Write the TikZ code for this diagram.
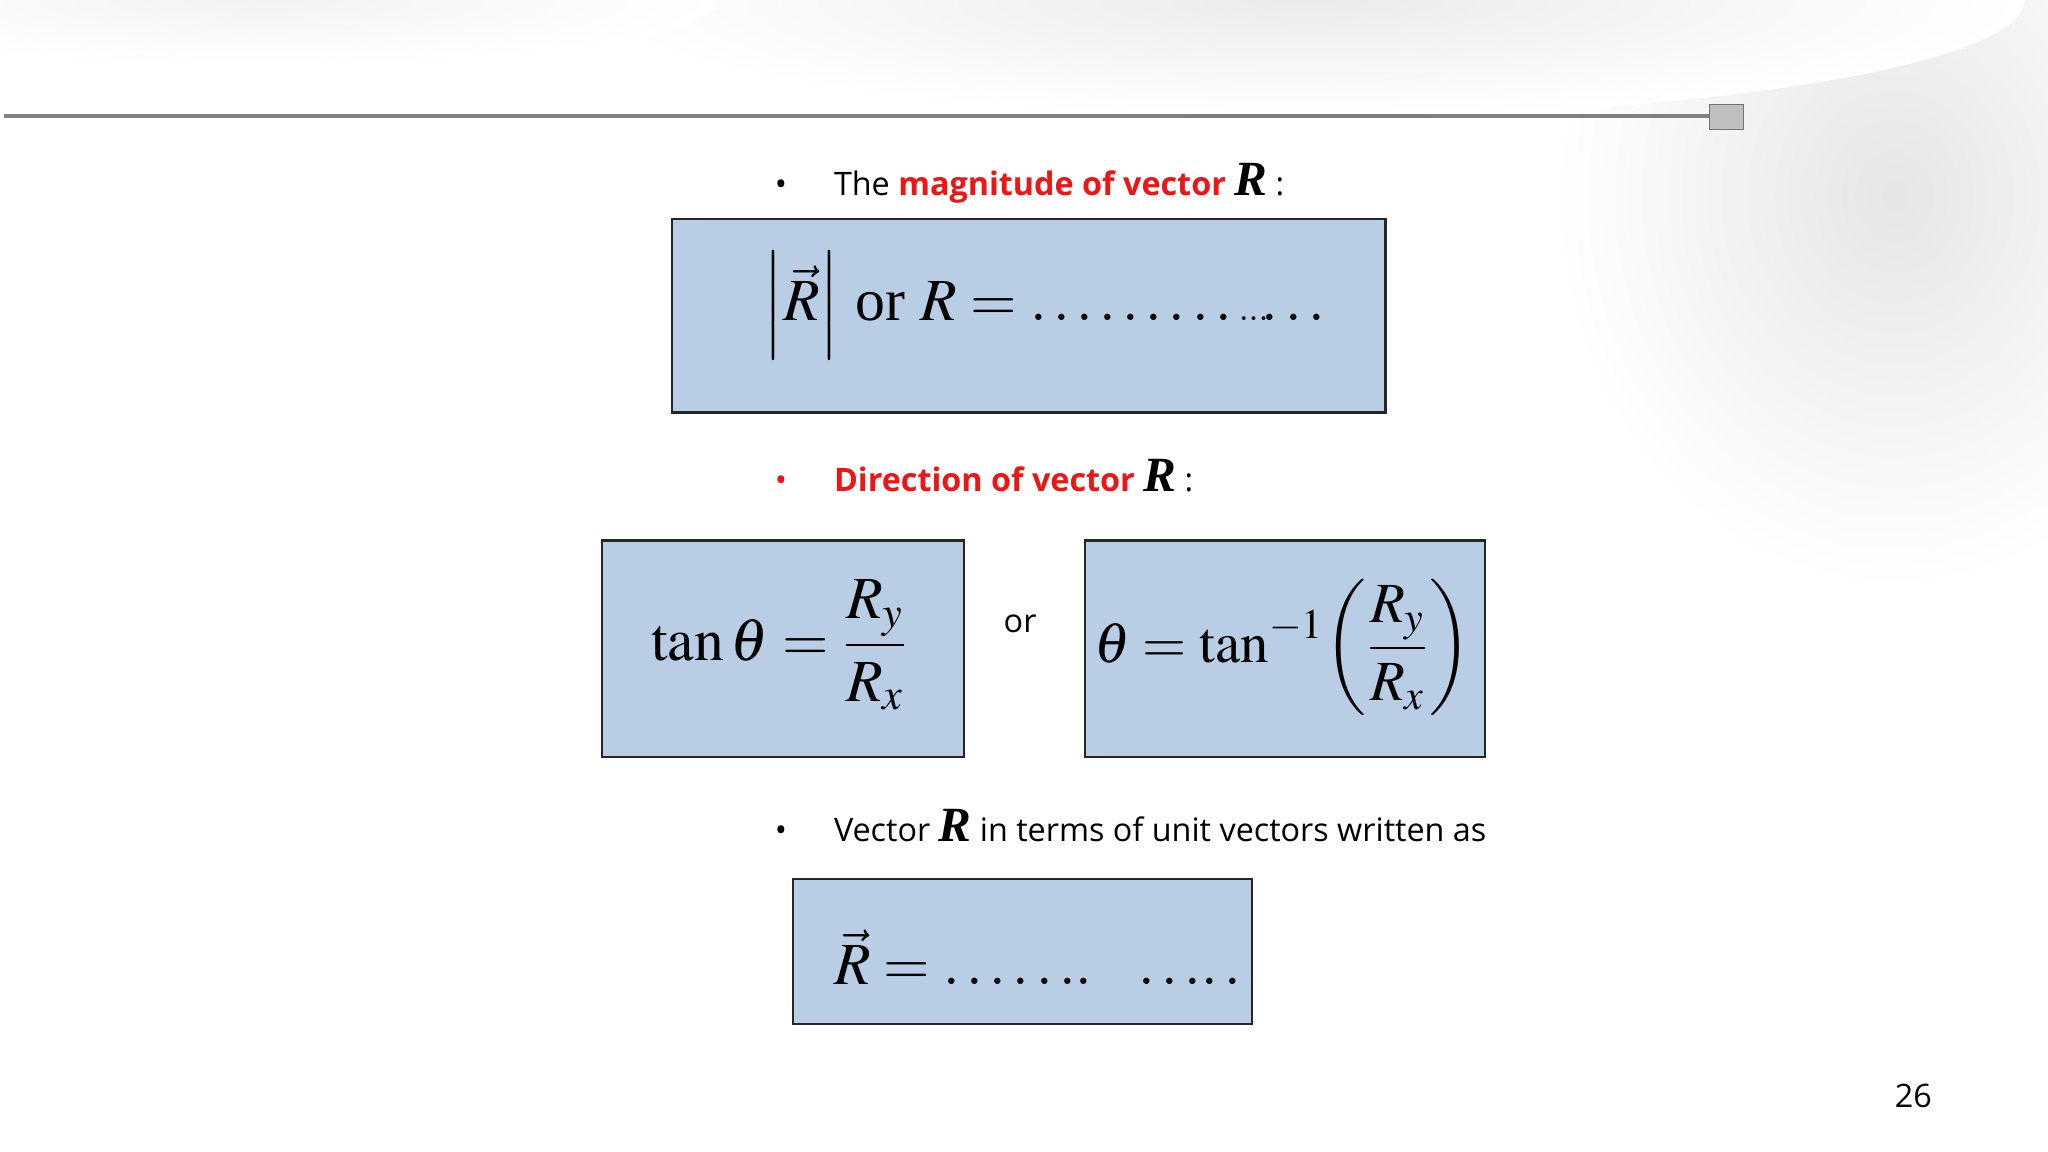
\documentclass[tikz,border=0pt]{standalone}
\usepackage{mathptmx}
\usepackage[no-math]{fontspec}
\setmainfont{Open Sans}
\newfontfamily\tnr{Liberation Serif}
\definecolor{boxblue}{RGB}{185,205,229}
\definecolor{slidered}{RGB}{240,20,20}
\begin{document}
\begin{tikzpicture}[x=0.013061cm,y=-0.013061cm,
  mbox/.style={draw=black!85,fill=boxblue,line width=0.6pt},
  txt/.style={anchor=base west,inner sep=0,font=\fontsize{9.2}{11}\selectfont},
  bul/.style={anchor=base,inner sep=0,font=\fontsize{9.2}{11}\selectfont},
  mth/.style={inner sep=0,font=\fontsize{17}{20}\selectfont}]
\useasboundingbox (0,0) rectangle (1568,882);
\fill[white] (0,0) rectangle (1568,882);
\shade[inner color=black!10,outer color=white] (1450,150) ellipse (260 and 300);
\shade[inner color=black!8,outer color=white] (1000,0) ellipse (550 and 90);
\shade[inner color=black!5,outer color=white] (200,0) ellipse (350 and 50);
\draw[black!50,line width=1.2pt] (3,89) -- (1310,89);
\node[draw=black!55,fill=black!25,inner sep=0,
  minimum width=0.34cm,minimum height=0.25cm] (sq) at (1322,89.5) {};
% bullet 1
\node[bul] (b1) at (598,150) {\textbullet};
\node[txt] (t1) at (638,150) {The \textcolor{slidered}{\textbf{magnitude of vector}} {\tnr\fontsize{14}{14}\selectfont\textbf{\textit{R}}} :};
\node[mbox,anchor=north west,inner sep=0,minimum width=7.131cm,minimum height=1.933cm] (box1) at (514,167) {};
\node[mth,anchor=west] (m1) at (584,234) {$\left|\vec R\right|$ {\tnr or} $R=\ldots\ldots\ldots{\scriptscriptstyle\ldots}\!.\,.\,.$};
% bullet 2
\node[bul,text=slidered] (b2) at (598,376) {\textbullet};
\node[txt] (t2) at (638,376) {\textcolor{slidered}{\textbf{Direction of vector}} {\tnr\fontsize{14}{14}\selectfont\textbf{\textit{R}}} :};
\node[mbox,anchor=north west,inner sep=0,minimum width=3.618cm,minimum height=2.168cm] (box2) at (460,413) {};
\node[mth] (m2) at (597,494) {$\displaystyle \tan\theta=\frac{R_y}{R_x}$};
\node[txt,anchor=base] (or) at (781,484) {or};
\node[mbox,anchor=north west,inner sep=0,minimum width=3.997cm,minimum height=2.168cm] (box3) at (830,413) {};
\node[mth,scale=0.95] (m3) at (982,496) {$\displaystyle \theta=\tan^{-1}\!\left(\frac{R_y}{R_x}\right)$};
% bullet 3
\node[bul] (b3) at (598,644) {\textbullet};
\node[txt] (t3) at (638,644) {Vector {\tnr\fontsize{14}{14}\selectfont\textbf{\textit{R}}} in terms of unit vectors written as};
\node[mbox,anchor=north west,inner sep=0,minimum width=4.598cm,minimum height=1.45cm] (box4) at (606,672) {};
\node[mth,anchor=west] (m4) at (638,733) {$\vec R=\ldots\ldots\!.\;\;\;\ldots\!.\,.$};
\node[txt,anchor=base] (pg) at (1465,848) {26};
\end{tikzpicture}
\end{document}
